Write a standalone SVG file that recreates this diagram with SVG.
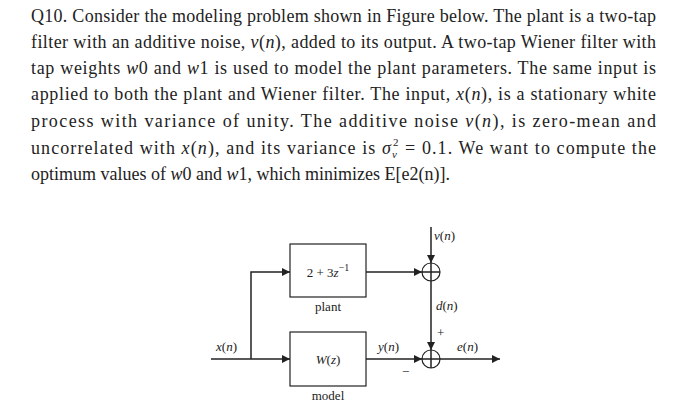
<svg xmlns="http://www.w3.org/2000/svg" width="695" height="419" viewBox="0 0 695 419">
<defs>
<marker id="ah" viewBox="0 0 10 10" refX="10" refY="5" markerWidth="10" markerHeight="8" markerUnits="userSpaceOnUse" orient="auto"><path d="M0,0L10,5L0,10z" fill="#222"/></marker>
</defs>
<style>
text{font-family:'Liberation Serif',serif}
.t{font-size:18px;fill:#222}
.m{font-style:italic}
.d{font-size:13px;fill:#222}
.di{font-style:italic;font-size:13px;fill:#222}
.ln{stroke:#222;stroke-width:1.5;fill:none}
.box{stroke:#222;stroke-width:1.2;fill:#fff}
</style>
<rect width="695" height="419" fill="#fff"/>
<g id="text" font-family="Liberation Serif, serif">
<text class="t" x="31" y="22" textLength="625" lengthAdjust="spacing">Q10. Consider the modeling problem shown in Figure below. The plant is a two-tap</text>
<text class="t" x="31" y="48" textLength="625" lengthAdjust="spacing">filter with an additive noise, <tspan class="m">v</tspan>(<tspan class="m">n</tspan>), added to its output. A two-tap Wiener filter with</text>
<text class="t" x="31" y="74" textLength="625" lengthAdjust="spacing">tap weights <tspan class="m">w</tspan>0 and <tspan class="m">w</tspan>1 is used to model the plant parameters. The same input is</text>
<text class="t" x="31" y="100" textLength="625" lengthAdjust="spacing">applied to both the plant and Wiener filter. The input, <tspan class="m">x</tspan>(<tspan class="m">n</tspan>), is a stationary white</text>
<text class="t" x="31" y="127" textLength="625" lengthAdjust="spacing">process with variance of unity. The additive noise <tspan class="m">v</tspan>(<tspan class="m">n</tspan>), is zero-mean and</text>
<text class="t" x="31" y="154" textLength="625" lengthAdjust="spacing">uncorrelated with <tspan class="m">x</tspan>(<tspan class="m">n</tspan>), and its variance is <tspan class="m">σ</tspan><tspan font-size="11" dy="4" class="m">v</tspan><tspan font-size="11" dx="-5" dy="-12">2</tspan><tspan dy="8"> = 0.1. We want to compute the</tspan></text>
<text class="t" x="31" y="180">optimum values of <tspan class="m">w</tspan>0 and <tspan class="m">w</tspan>1, which minimizes E[e2(n)].</text>
</g>
<g id="connectors">
<line class="ln" x1="211" y1="359" x2="290" y2="359" marker-end="url(#ah)"/>
<polyline class="ln" points="251,359 251,272 290,272" marker-end="url(#ah)"/>
<line class="ln" x1="366" y1="272" x2="422" y2="272" marker-end="url(#ah)"/>
<line class="ln" x1="431" y1="227" x2="431" y2="263" marker-end="url(#ah)"/>
<line class="ln" x1="431" y1="281" x2="431" y2="350" marker-end="url(#ah)"/>
<line class="ln" x1="366" y1="359" x2="422" y2="359" marker-end="url(#ah)"/>
<line class="ln" x1="440" y1="359" x2="500" y2="359" marker-end="url(#ah)"/>
</g>
<g id="plant">
<rect class="box" x="290" y="244" width="76" height="53"/>
<text class="d" x="328" y="277" text-anchor="middle" font-size="15">2 + 3<tspan class="m">z</tspan><tspan font-size="10" dy="-6">−1</tspan></text>
<text class="d" x="328" y="311" text-anchor="middle">plant</text>
</g>
<g id="model">
<rect class="box" x="290" y="332" width="76" height="54"/>
<text class="d" x="328" y="364" text-anchor="middle" font-size="15"><tspan class="m">W</tspan>(<tspan class="m">z</tspan>)</text>
<text class="d" x="328" y="400" text-anchor="middle">model</text>
</g>
<g id="sum1">
<circle cx="431" cy="272" r="9" class="box"/>
<path d="M422,272H440M431,263V281" class="ln" stroke-width="1"/>
</g>
<g id="sum2">
<circle cx="431" cy="359" r="9" class="box"/>
<path d="M422,359H440M431,350V368" class="ln" stroke-width="1"/>
</g>
<g id="labels">
<text class="di" x="434" y="240">ν<tspan font-style="normal">(</tspan>n<tspan font-style="normal">)</tspan></text>
<text class="di" x="436" y="310">d<tspan font-style="normal">(</tspan>n<tspan font-style="normal">)</tspan></text>
<text class="d" x="437" y="337">+</text>
<text class="di" x="216" y="351">x<tspan font-style="normal">(</tspan>n<tspan font-style="normal">)</tspan></text>
<text class="di" x="378" y="351">y<tspan font-style="normal">(</tspan>n<tspan font-style="normal">)</tspan></text>
<text class="d" x="402" y="376">−</text>
<text class="di" x="457" y="351">e<tspan font-style="normal">(</tspan>n<tspan font-style="normal">)</tspan></text>
</g>
</svg>
